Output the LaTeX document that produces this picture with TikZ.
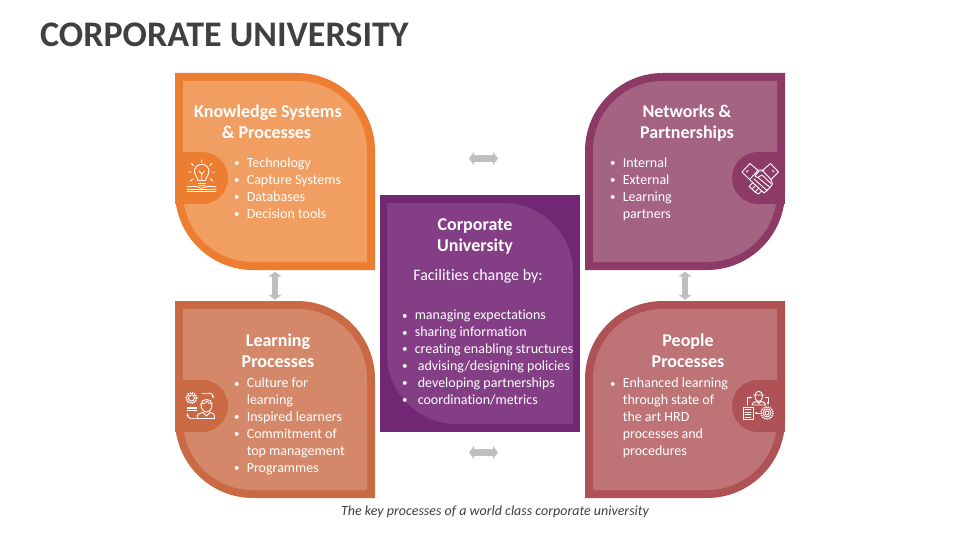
\documentclass[tikz,border=0pt]{standalone}
\usepackage{fontspec}
\setmainfont{Carlito}[Ligatures=NoCommon]
\usetikzlibrary{arrows.meta}
\definecolor{orO}{HTML}{ED7D31}\definecolor{orI}{HTML}{F09E62}
\definecolor{leO}{HTML}{C96A45}\definecolor{leI}{HTML}{D58869}
\definecolor{puO}{HTML}{722774}\definecolor{puI}{HTML}{843E86}
\definecolor{neO}{HTML}{8E3A66}\definecolor{neI}{HTML}{A56384}
\definecolor{peO}{HTML}{AE5256}\definecolor{peI}{HTML}{BE7477}
\definecolor{arr}{HTML}{BFBFBF}\definecolor{ink}{HTML}{404040}
\newcommand{\leafshape}[3]{%
 \begin{scope}[#1]
  \fill[#2] (0,0) -- (122,0) .. controls (165,0) and (200,35) .. (200,78) -- (200,197) -- (78,197) .. controls (35,197) and (0,162) .. (0,119) -- cycle;
  \fill[#3] (8,8) -- (122,8) .. controls (161,8) and (192,39) .. (192,78) -- (192,189) -- (78,189) .. controls (39,189) and (8,158) .. (8,119) -- cycle;
  \fill[#2] (0,79) rectangle (27,131);
  \fill[#2] (27,105) circle[radius=26];
 \end{scope}}
\newcommand{\bl}{\makebox[7.2pt][c]{\fontsize{11}{11}\selectfont\raisebox{0.7pt}{\textbullet}}}
\newenvironment{blist}{\fontsize{14}{16.85}\selectfont\begin{tabular}{@{}l@{\hspace{6.4pt}}l@{}}}{\end{tabular}}
\tikzset{
 cardbox/.style={minimum width=200pt,minimum height=197pt,inner sep=0pt},
 head/.style={text=white,align=center,inner sep=0pt,font=\fontsize{18}{21}\selectfont\bfseries},
 lst/.style={text=white,anchor=north west,inner sep=0pt},
 link/.style={draw=arr,line width=6.5pt,{Triangle[width=13pt,length=5pt]}-{Triangle[width=13pt,length=5pt]}},
 ico/.style={draw=white,line width=0.9pt,line cap=round,line join=round},
 captext/.style={text=ink,inner sep=0pt,font=\fontsize{14}{16}\selectfont\itshape}
}
\begin{document}
\begin{tikzpicture}[x=1pt,y=-1pt]
\useasboundingbox (0,0) rectangle (960,540);
\fill[white] (0,0) rectangle (960,540);
\node[anchor=west,inner sep=0pt,text=ink,font=\fontsize{36}{40}\selectfont\bfseries] (title) at (40,34.5) {CORPORATE UNIVERSITY};

% card shapes
\leafshape{shift={(175,73)}}{orO}{orI}
\leafshape{shift={(175,301)}}{leO}{leI}
\leafshape{shift={(785,73)},xscale=-1}{neO}{neI}
\leafshape{shift={(785,301)},xscale=-1}{peO}{peI}
% centre
\fill[puO] (380,195) rectangle (580,432);
\fill[puI] (387,203) -- (503,203) .. controls (542,203) and (573,234) .. (573,273) -- (573,424) -- (457,424) .. controls (418,424) and (387,393) .. (387,354) -- cycle;

% anchors for connectors
\node[cardbox] (kbox) at (275,171.5) {};
\node[cardbox] (lbox) at (275,399.5) {};
\node[cardbox] (nbox) at (685,171.5) {};
\node[cardbox] (pbox) at (685,399.5) {};
\coordinate (ta) at (469,158.5);\coordinate (tb) at (498,158.5);
\coordinate (ba) at (469,452.5);\coordinate (bb) at (498,452.5);
\draw[link,shorten <=1.5pt,shorten >=1pt] (kbox.south) -- (lbox.north);
\draw[link,shorten <=1.5pt,shorten >=1pt] (nbox.south) -- (pbox.north);
\draw[link] (ta) -- (tb);
\draw[link] (ba) -- (bb);

% headings
\node[head] (h1) at (268,121.5) {Knowledge Systems\\\hspace*{-3pt}\& Processes};
\node[head] (h2) at (278,350.5) {Learning\\Processes};
\node[head] (h3) at (687,123) {Networks \&\\Partnerships};
\node[head] (h4) at (688,350.5) {People\\Processes};
\node[head] (h5) at (475,237) {Corporate\\University};
\node[text=white,inner sep=0pt,font=\fontsize{16}{19}\selectfont] (fac) at (478,276) {Facilities change by:};

% lists
\node[lst] (l1) at (233,155.5) {\begin{blist}\bl&Technology\\\bl&Capture Systems\\\bl&Databases\\\bl&Decision tools\end{blist}};
\node[lst] (l2) at (233,376) {\begin{blist}\bl&Culture for\\&learning\\\bl&Inspired learners\\\bl&Commitment of\\&top management\\\bl&Programmes\end{blist}};
\node[lst] (l3) at (609,155.5) {\begin{blist}\bl&Internal\\\bl&External\\\bl&Learning\\&partners\end{blist}};
\node[lst] (l4) at (609,376) {\begin{blist}\bl&Enhanced learning\\&through state of\\&the art HRD\\&processes and\\&procedures\end{blist}};
\node[lst] (l5) at (401,308) {\begin{blist}\bl&managing expectations\\\bl&sharing information\\\bl&creating enabling structures\\\bl&\hspace{3pt}advising/designing policies\\\bl&\hspace{3pt}developing partnerships\\\bl&\hspace{3pt}coordination/metrics\end{blist}};

% caption
\node[captext] (capt) at (495,511.5) {The key processes of a world class corporate university};

% bulb icon
\begin{scope}[ico]
 \draw (198,180.5) .. controls (197,176) and (194.5,175.5) .. (194.5,171.5) .. controls (194.5,162) and (209,162) .. (209,171.5) .. controls (209,175.5) and (206.5,176) .. (205.5,180.5) -- cycle;
 \draw (199,171) -- (201.7,174) -- (204.4,171) (201.7,174) -- (201.7,180);
 \draw (198,183) -- (205.5,183) (199,185.3) -- (204.5,185.3);
 \draw (201.7,160) -- (201.7,163) (191.5,163.5) -- (193.5,165.5) (212,163.5) -- (210,165.5) (188.5,172) -- (191.5,172) (212,172) -- (215,172) (190.5,181) -- (193,179) (213,181) -- (210.5,179);
 \draw (187,187) .. controls (192,186) and (198,186) .. (201.7,188.5) .. controls (205,186) and (211,186) .. (216,187);
 \draw (187,189.5) -- (216,189.5) (187,191.7) -- (216,191.7);
\end{scope}
% learning icon
\begin{scope}[ico]
 \draw (191.5,398) circle[radius=3];
 \draw[dash pattern=on 1.3pt off 0.9pt,line cap=butt,line width=1.6pt] (191.5,398) circle[radius=5.2];
 \fill[white] (187,407) rectangle (197,408.5);
 \draw (187,410.5) -- (197,410.5);
 \draw[dash pattern=on 1.3pt off 1.3pt] (202,393) -- (209,393);
 \draw[-{Stealth[length=3pt]}] (209,393) .. controls (212,393) and (213,395) .. (213,398.5);
 \draw[dash pattern=on 1.3pt off 1.3pt] (196,418) -- (190,418);
 \draw[-{Stealth[length=3pt]}] (190,418) .. controls (188,418) and (187.5,416) .. (187.5,413);
 \draw (201,404) .. controls (201,398) and (212,398) .. (212,404) .. controls (212.5,409) and (209,412) .. (206.5,412) .. controls (204,412) and (200.5,409) .. (201,404) -- cycle;
 \draw (201,404) .. controls (204,404) and (206,403) .. (207,401) .. controls (208,403) and (210,404) .. (212,404);
 \draw (197,418.5) .. controls (197,414) and (199,413.5) .. (203,412.5) -- (206.5,416) -- (210,412.5) .. controls (214,413.5) and (214.5,414) .. (214.5,418.5) -- cycle;
\end{scope}
% handshake icon
\begin{scope}[ico]
 \draw (742,172) -- (750,163.5) -- (758,170.5) -- (749.5,179.5) -- cycle;
 \draw (778.5,172) -- (770.5,163.5) -- (762.5,170.5) -- (771,179.5) -- cycle;
 \draw (746.5,172) -- (748,170.5) (774,172) -- (772.5,170.5);
 \draw (757,170) -- (762,170) -- (764,171);
 \draw (763,171) -- (759,171) -- (755,176) .. controls (756,178) and (758,178) .. (760,176) -- (762,175) -- (771,183.5);
 \draw (749.5,179.5) -- (764,193) -- (767,190.5) -- (754,179) ;
 \draw (767,190.5) -- (770,187.5) -- (758,177.5);
 \draw (770,187.5) -- (772.5,184) -- (771,179.5);
 \draw (752.5,183) -- (749,186.5) -- (752,189) -- (755.5,185.5);
 \draw (752,189) -- (755,192) -- (758.5,188.5);
 \draw (755,192) -- (758.5,194) -- (761.5,191);
\end{scope}
% people icon
\begin{scope}[ico]
 \draw (755,395.5) .. controls (755,390) and (762.5,390) .. (762.5,395.5) .. controls (762.5,400) and (760,401.5) .. (758.7,401.5) .. controls (757,401.5) and (755,400) .. (755,395.5) -- cycle;
 \draw (753.5,395) -- (764,395) (752,405) .. controls (752,402.5) and (754,402) .. (756.5,401.5) -- (758.7,403.5) -- (761,401.5) .. controls (763.5,402) and (765.5,402.5) .. (765.5,405) -- cycle;
 \draw (743,407) rectangle (753,419.5);
 \draw (745,409.5) -- (751,409.5) (745,412) -- (751,412) (745,414.5) -- (751,414.5) (745,417) -- (751,417);
 \draw[-{Stealth[length=3pt]}] (747,405) -- (747,397.5) -- (752.5,397.5);
 \draw[-{Stealth[length=3pt]}] (765.5,397.5) -- (768,397.5) -- (768,405);
 \draw[-{Stealth[length=3pt]}] (760,413) -- (754.5,413);
 \draw (767,413) circle[radius=2] (767,413) circle[radius=4];
 \draw[dash pattern=on 1.3pt off 0.9pt,line cap=butt,line width=1.4pt] (767,413) circle[radius=6];
\end{scope}
\end{tikzpicture}
\end{document}
